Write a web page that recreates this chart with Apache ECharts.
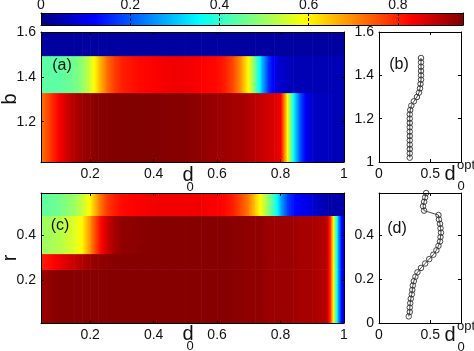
<!DOCTYPE html>
<html>
<head>
<meta charset="utf-8">
<script src="https://cdn.jsdelivr.net/npm/echarts@6/dist/echarts.min.js"></script>
<style>
html, body { margin: 0; padding: 0; background: #fff; }
#main { width: 474px; height: 351px; }
</style>
</head>
<body>
<div id="main"></div>
<script>
// d0 sample columns shared by the two maps
var d0Cols = [0.045, 0.075, 0.1, 0.125, 0.15, 0.175, 0.2, 0.225, 0.25, 0.275, 0.3, 0.35, 0.4, 0.45, 0.5, 0.55, 0.6, 0.625, 0.65, 0.675,
              0.7, 0.72, 0.74, 0.76, 0.78, 0.8, 0.82, 0.84, 0.86, 0.88, 0.9, 0.92, 0.94, 0.95, 0.96, 0.97, 0.98, 0.99, 1.0];

// panel (a): b bands, one d0 profile per band
var aBands = [[1.02, 1.33], [1.33, 1.495], [1.495, 1.6]];
var aLow = [0.72, 0.78, 0.83, 0.87, 0.9, 0.92, 0.93, 0.94, 0.94, 0.945, 0.945, 0.945, 0.945, 0.94, 0.94, 0.93, 0.92, 0.92, 0.91, 0.91,
            0.9, 0.89, 0.88, 0.87, 0.86, 0.84, 0.6, 0.36, 0.2, 0.1, 0.07, 0.06, 0.06, 0.06, 0.06, 0.05, 0.05, 0.05, 0.05];
var aMid = [0.44, 0.44, 0.44, 0.45, 0.46, 0.49, 0.55, 0.64, 0.72, 0.77, 0.8, 0.82, 0.83, 0.84, 0.84, 0.83, 0.82, 0.8, 0.76, 0.69,
            0.58, 0.45, 0.3, 0.17, 0.1, 0.07, 0.06, 0.05, 0.05, 0.05, 0.05, 0.05, 0.05, 0.05, 0.05, 0.05, 0.05, 0.05, 0.05];
var aTop = [0.03, 0.03, 0.03, 0.03, 0.03, 0.03, 0.03, 0.03, 0.03, 0.03, 0.03, 0.03, 0.03, 0.03, 0.03, 0.03, 0.03, 0.03, 0.03, 0.03,
            0.03, 0.03, 0.03, 0.03, 0.03, 0.03, 0.03, 0.03, 0.03, 0.03, 0.03, 0.03, 0.03, 0.03, 0.03, 0.03, 0.03, 0.03, 0.03];

// panel (c): r bands
var cBands = [[0.01, 0.25], [0.25, 0.32], [0.32, 0.49], [0.49, 0.59]];
var cLow = [0.92, 0.93, 0.94, 0.94, 0.94, 0.94, 0.94, 0.94, 0.94, 0.94, 0.94, 0.94, 0.94, 0.94, 0.94, 0.94, 0.94, 0.94, 0.935, 0.935,
            0.93, 0.93, 0.93, 0.92, 0.92, 0.92, 0.92, 0.92, 0.91, 0.91, 0.91, 0.9, 0.9, 0.86, 0.72, 0.5, 0.3, 0.14, 0.07];
var cRed = [0.8, 0.82, 0.84, 0.86, 0.88, 0.9, 0.92, 0.93, 0.935, 0.94, 0.94, 0.94, 0.94, 0.94, 0.94, 0.94, 0.94, 0.94, 0.935, 0.935,
            0.93, 0.93, 0.93, 0.92, 0.92, 0.92, 0.92, 0.92, 0.91, 0.91, 0.91, 0.9, 0.9, 0.86, 0.72, 0.5, 0.3, 0.14, 0.07];
var cMid = [0.5, 0.51, 0.52, 0.54, 0.56, 0.6, 0.7, 0.8, 0.87, 0.91, 0.93, 0.935, 0.94, 0.94, 0.94, 0.94, 0.94, 0.94, 0.935, 0.935,
            0.93, 0.93, 0.93, 0.92, 0.92, 0.92, 0.92, 0.92, 0.91, 0.91, 0.91, 0.9, 0.9, 0.86, 0.72, 0.5, 0.3, 0.14, 0.07];
var cTop = [0.44, 0.45, 0.46, 0.48, 0.5, 0.54, 0.6, 0.7, 0.77, 0.8, 0.82, 0.83, 0.84, 0.84, 0.84, 0.84, 0.83, 0.82, 0.8, 0.76,
            0.71, 0.64, 0.57, 0.49, 0.4, 0.28, 0.18, 0.13, 0.11, 0.1, 0.08, 0.06, 0.05, 0.04, 0.04, 0.04, 0.04, 0.04, 0.04];

// panel (b): optimal d0 against b
var bVals = [1.02, 1.04, 1.06, 1.08, 1.1, 1.12, 1.14, 1.16, 1.18, 1.2, 1.22, 1.24, 1.26, 1.28, 1.3, 1.32, 1.34, 1.36, 1.38, 1.4, 1.42, 1.44, 1.46, 1.48];
var bOpt = [0.3, 0.3, 0.3, 0.3, 0.3, 0.3, 0.3, 0.3, 0.3, 0.3, 0.3, 0.305, 0.315, 0.34, 0.37, 0.39, 0.4, 0.405, 0.41, 0.41, 0.41, 0.41, 0.41, 0.41];

// panel (d): optimal d0 against r
var rVals = [0.03, 0.05, 0.07, 0.09, 0.11, 0.13, 0.15, 0.17, 0.19, 0.21, 0.23, 0.25, 0.27, 0.29, 0.31, 0.33, 0.35, 0.37, 0.39, 0.41,
             0.43, 0.45, 0.47, 0.49, 0.51, 0.53, 0.55, 0.57, 0.59];
var rOpt = [0.29, 0.3, 0.3, 0.305, 0.31, 0.32, 0.325, 0.33, 0.34, 0.355, 0.375, 0.41, 0.45, 0.49, 0.53, 0.56, 0.58, 0.595, 0.6, 0.605,
            0.6, 0.595, 0.585, 0.58, 0.44, 0.43, 0.44, 0.45, 0.46];

// colour bar
var cbarMax = 0.946;

function clamp(v) { return Math.max(0, Math.min(1, v)); }
function jet(v) {
    var t = clamp(v / cbarMax);
    var r = clamp(1.5 - Math.abs(4 * t - 3));
    var g = clamp(1.5 - Math.abs(4 * t - 2));
    var b = clamp(1.5 - Math.abs(4 * t - 1));
    return 'rgb(' + Math.round(r * 255) + ',' + Math.round(g * 255) + ',' + Math.round(b * 255) + ')';
}

function bandCells(bands, profiles) {
    var out = [];
    bands.forEach(function (band, k) {
        var p = profiles[k];
        for (var i = 0; i < d0Cols.length - 1; i++) {
            out.push([d0Cols[i], d0Cols[i + 1], band[0], band[1], p[i], p[i + 1]]);
        }
    });
    return out;
}

// cell from x0..x1, y0..y1, colour shaded from value v0 to v1
function renderCell(params, api) {
    var v0 = api.value(4), v1 = api.value(5);
    var p0 = api.coord([api.value(0), api.value(3)]);
    var p1 = api.coord([api.value(1), api.value(2)]);
    var n = Math.max(2, Math.ceil(Math.abs(v1 - v0) / 0.02) + 1);
    var stops = [];
    for (var j = 0; j < n; j++) {
        var f = j / (n - 1);
        stops.push({offset: f, color: jet(v0 + (v1 - v0) * f)});
    }
    return {
        type: 'rect',
        shape: {x: p0[0], y: p0[1], width: p1[0] - p0[0] + 0.6, height: p1[1] - p0[1] + 0.6},
        style: {fill: new echarts.graphic.LinearGradient(0, 0, 1, 0, stops)}
    };
}

var fontName = 'Liberation Sans';
function valueAxis(grid, pos, min, max, label, more) {
    var ax = {
        type: 'value', gridIndex: grid, position: pos, min: min, max: max, z: 5,
        axisLine: {show: true, onZero: false, lineStyle: {color: '#000', width: 1}},
        axisTick: {show: true, inside: true, length: 3, lineStyle: {color: '#000', width: 1}},
        splitLine: {show: false},
        axisLabel: label ? Object.assign({show: true, color: '#111', fontSize: 14, fontFamily: fontName}, label) : {show: false}
    };
    return Object.assign(ax, more || {});
}

function txt(s, x, y, size, extra) {
    return Object.assign({
        type: 'text', x: x, y: y, z: 10,
        style: {text: s, font: size + 'px "' + fontName + '"', fill: '#111',
                align: 'center', verticalAlign: 'middle', textAlign: 'center', textVerticalAlign: 'middle'}
    }, extra || {});
}

var myChart = echarts.init(document.getElementById('main'));
var option = {
    animation: false,
    backgroundColor: '#fff',
    grid: [
        {left: 41, top: 13, width: 422, height: 12, outerBoundsMode: 'none'},
        {left: 41, top: 32, width: 303, height: 130, outerBoundsMode: 'none'},
        {left: 379, top: 32, width: 82, height: 130, outerBoundsMode: 'none'},
        {left: 41, top: 193, width: 303, height: 130, outerBoundsMode: 'none'},
        {left: 379, top: 193, width: 82, height: 130, outerBoundsMode: 'none'}
    ],
    xAxis: [
        valueAxis(0, 'top', 0, cbarMax, {margin: 1, showMaxLabel: false},
            {interval: 0.2, axisTick: {show: false},
             splitLine: {show: true, lineStyle: {color: '#000', type: [3, 2], width: 1}}}),
        valueAxis(0, 'bottom', 0, cbarMax, null, {axisTick: {show: false}}),
        valueAxis(1, 'bottom', 0.045, 1, {margin: 5, showMinLabel: false}, {splitNumber: 5}),
        valueAxis(1, 'top', 0.045, 1, null, {splitNumber: 5}),
        valueAxis(2, 'bottom', 0, 0.8, {margin: 5, showMaxLabel: false}, {interval: 0.5}),
        valueAxis(2, 'top', 0, 0.8, null, {interval: 0.5}),
        valueAxis(3, 'bottom', 0.045, 1, {margin: 5, showMinLabel: false}, {splitNumber: 5}),
        valueAxis(3, 'top', 0.045, 1, null, {splitNumber: 5}),
        valueAxis(4, 'bottom', 0, 0.8, {margin: 5, showMaxLabel: false}, {interval: 0.5}),
        valueAxis(4, 'top', 0, 0.8, null, {interval: 0.5})
    ],
    yAxis: [
        valueAxis(0, 'left', 0, 1, null, {axisTick: {show: false}}),
        valueAxis(0, 'right', 0, 1, null, {axisTick: {show: false}}),
        valueAxis(1, 'left', 1.02, 1.6, {margin: 5, showMinLabel: false}, {splitNumber: 3}),
        valueAxis(1, 'right', 1.02, 1.6, null, {splitNumber: 3}),
        valueAxis(2, 'left', 1, 1.6, {margin: 5}, {interval: 0.2}),
        valueAxis(2, 'right', 1, 1.6, null, {interval: 0.2}),
        valueAxis(3, 'left', 0.01, 0.59, {margin: 5, showMinLabel: false, showMaxLabel: false}, {splitNumber: 3}),
        valueAxis(3, 'right', 0.01, 0.59, null, {splitNumber: 3}),
        valueAxis(4, 'left', 0, 0.59, {margin: 5, showMaxLabel: false}, {interval: 0.2}),
        valueAxis(4, 'right', 0, 0.59, null, {interval: 0.2})
    ],
    series: [
        {
            type: 'custom', xAxisIndex: 0, yAxisIndex: 0, clip: true,
            encode: {x: [0, 1], y: [2, 3]},
            renderItem: renderCell,
            data: [[0, cbarMax, 0, 1, 0, cbarMax]]
        },
        {
            type: 'custom', xAxisIndex: 2, yAxisIndex: 2, clip: true,
            encode: {x: [0, 1], y: [2, 3]},
            renderItem: renderCell,
            data: bandCells(aBands, [aLow, aMid, aTop])
        },
        {
            type: 'line', xAxisIndex: 4, yAxisIndex: 4,
            data: bOpt.map(function (x, i) { return [x, bVals[i]]; }),
            symbol: 'circle', symbolSize: 5.5, showAllSymbol: true,
            itemStyle: {color: 'rgba(0,0,0,0)', borderColor: '#333', borderWidth: 0.9},
            lineStyle: {color: '#333', width: 0.9},
            emphasis: {disabled: true}
        },
        {
            type: 'custom', xAxisIndex: 6, yAxisIndex: 6, clip: true,
            encode: {x: [0, 1], y: [2, 3]},
            renderItem: renderCell,
            data: bandCells(cBands, [cLow, cRed, cMid, cTop])
        },
        {
            type: 'line', xAxisIndex: 8, yAxisIndex: 8,
            data: rOpt.map(function (x, i) { return [x, rVals[i]]; }),
            symbol: 'circle', symbolSize: 5.5, showAllSymbol: true,
            itemStyle: {color: 'rgba(0,0,0,0)', borderColor: '#333', borderWidth: 0.9},
            lineStyle: {color: '#333', width: 0.9},
            emphasis: {disabled: true}
        }
    ],
    graphic: [
        txt('b', 10, 99, 20, {rotation: Math.PI / 2}),
        txt('r', 10, 258, 20, {rotation: Math.PI / 2}),
        txt('d', 188, 175, 20), txt('0', 190, 187, 13),
        txt('d', 188, 334, 20), txt('0', 190, 346, 13),
        txt('d', 450, 174, 20), txt('opt', 466, 165, 13), txt('0', 461, 186, 13),
        txt('d', 450, 335, 20), txt('opt', 466, 326, 13), txt('0', 461, 347, 13),
        txt('(a)', 62, 66, 16), txt('(b)', 399, 65, 16),
        txt('(c)', 60, 226, 16), txt('(d)', 397, 229, 16)
    ]
};
if (option && typeof option === 'object') {
    myChart.setOption(option, true);
}
</script>
</body>
</html>
